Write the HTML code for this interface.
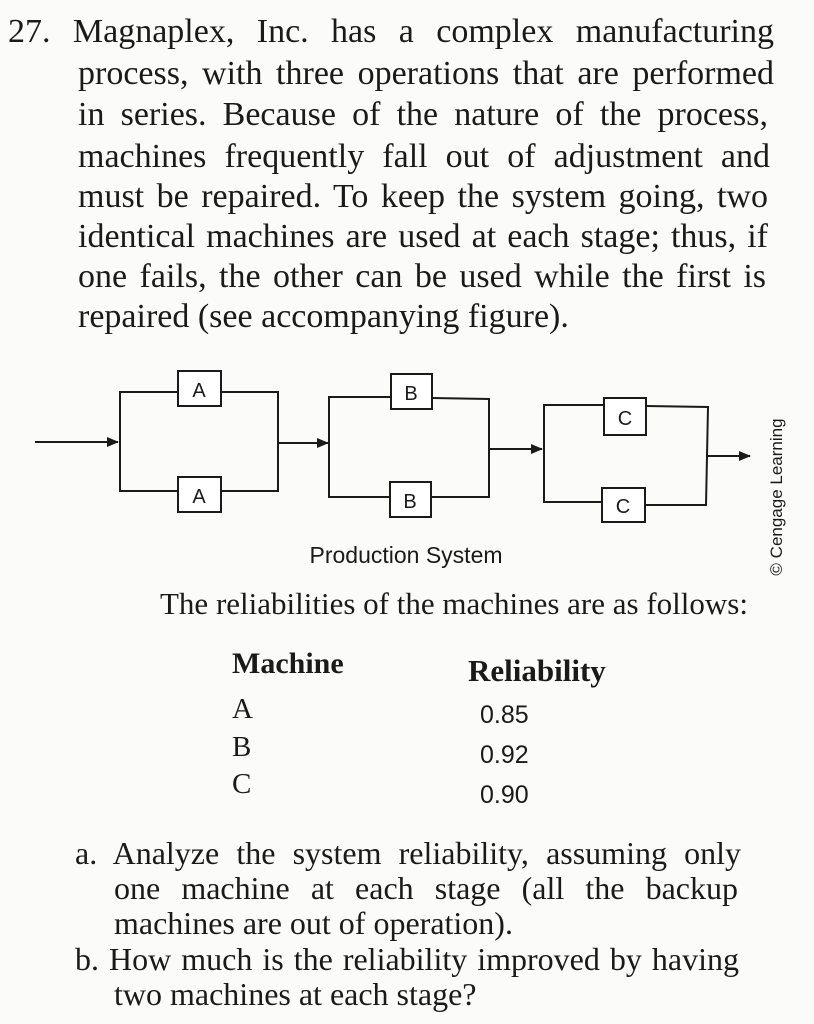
<!DOCTYPE html>
<html><head><meta charset="utf-8"><style>
body{margin:0;width:814px;height:1024px;background:#fbfbf9;position:relative;overflow:hidden;font-family:"Liberation Serif",serif;color:#1a1a1a}
.l{position:absolute;font-size:34px;line-height:36px;white-space:nowrap;text-align:justify;text-align-last:justify}
.s{position:absolute;font-size:26px;white-space:nowrap}
.q{position:absolute;font-size:32px;line-height:34px;white-space:nowrap;text-align:justify;text-align-last:justify}
</style></head><body>
<div class="l" style="left:8px;top:14px;width:766px">27. Magnaplex, Inc. has a complex manufacturing</div>
<div class="l" style="left:78px;top:56px;width:696px">process, with three operations that are performed</div>
<div class="l" style="left:78px;top:97px;width:690px">in series. Because of the nature of the process,</div>
<div class="l" style="left:78px;top:139px;width:692px">machines frequently fall out of adjustment and</div>
<div class="l" style="left:78px;top:179px;width:690px">must be repaired. To keep the system going, two</div>
<div class="l" style="left:78px;top:219px;width:690px">identical machines are used at each stage; thus, if</div>
<div class="l" style="left:78px;top:259px;width:688px">one fails, the other can be used while the first is</div>
<div class="l" style="left:78px;top:299px;">repaired (see accompanying figure).</div>

<svg style="position:absolute;left:0;top:0" width="814" height="600">
<defs><marker id="ar" markerWidth="12" markerHeight="10" refX="11" refY="5" orient="auto" markerUnits="userSpaceOnUse"><path d="M0,0 L12,5 L0,10 Z" fill="#1a1a1a"/></marker></defs>
<g stroke="#1a1a1a" stroke-width="2" fill="none">
<line x1="35" y1="442" x2="118" y2="442" marker-end="url(#ar)"/>
<polyline points="178,392 120,392 120,491 178,491"/>
<polyline points="221,392 278,392 278,491 221,491"/>
<line x1="278" y1="443" x2="328" y2="443" marker-end="url(#ar)"/>
<polyline points="391,397 329,397 329,497 391,497"/>
<polyline points="432,398 489,399 489,497 432,497"/>
<line x1="489" y1="449" x2="542" y2="449" marker-end="url(#ar)"/>
<polyline points="604,405 544,405 544,502 604,502"/>
<polyline points="646,406 708,407 706,505 646,505"/>
<line x1="706" y1="456" x2="750" y2="456" marker-end="url(#ar)"/>
<rect x="178" y="371" width="43" height="35" fill="#fff"/>
<rect x="178" y="477" width="43" height="35" fill="#fff"/>
<rect x="391" y="374" width="41" height="35" fill="#fff"/>
<rect x="390" y="482" width="41" height="35" fill="#fff"/>
<rect x="604" y="398" width="42" height="37" fill="#fff"/>
<rect x="602" y="488" width="43" height="34" fill="#fff"/>
</g>
<g font-family="Liberation Sans,sans-serif" font-size="20" text-anchor="middle" fill="#1a1a1a">
<text x="199" y="397">A</text><text x="199" y="503">A</text>
<text x="411" y="400">B</text><text x="410" y="508">B</text>
<text x="625" y="425">C</text><text x="623" y="513">C</text>
<text x="406" y="563" font-size="23">Production System</text>
<text transform="translate(782,497) rotate(-90)" font-size="17">© Cengage Learning</text>
</g>
</svg>

<div class="s" style="left:160px;top:586px;font-size:31px">The reliabilities of the machines are as follows:</div>
<div class="s" style="left:232px;top:647px;font-weight:bold;font-size:30px">Machine</div>
<div class="s" style="left:468px;top:653px;font-weight:bold;font-size:31px">Reliability</div>
<div class="s" style="left:232px;top:693px;font-size:29px">A</div>
<div class="s" style="left:232px;top:731px;font-size:29px">B</div>
<div class="s" style="left:232px;top:768px;font-size:29px">C</div>
<div class="s" style="left:480px;top:701px;font-family:'Liberation Sans',sans-serif;font-size:25px">0.85</div>
<div class="s" style="left:480px;top:741px;font-family:'Liberation Sans',sans-serif;font-size:25px">0.92</div>
<div class="s" style="left:480px;top:781px;font-family:'Liberation Sans',sans-serif;font-size:25px">0.90</div>

<div class="q" style="left:75px;top:836px;width:666px">a. Analyze the system reliability, assuming only</div>
<div class="q" style="left:114px;top:871px;width:624px">one machine at each stage (all the backup</div>
<div class="q" style="left:114px;top:906px">machines are out of operation).</div>
<div class="q" style="left:75px;top:942px;width:664px">b. How much is the reliability improved by having</div>
<div class="q" style="left:114px;top:977px">two machines at each stage?</div>
</body></html>
